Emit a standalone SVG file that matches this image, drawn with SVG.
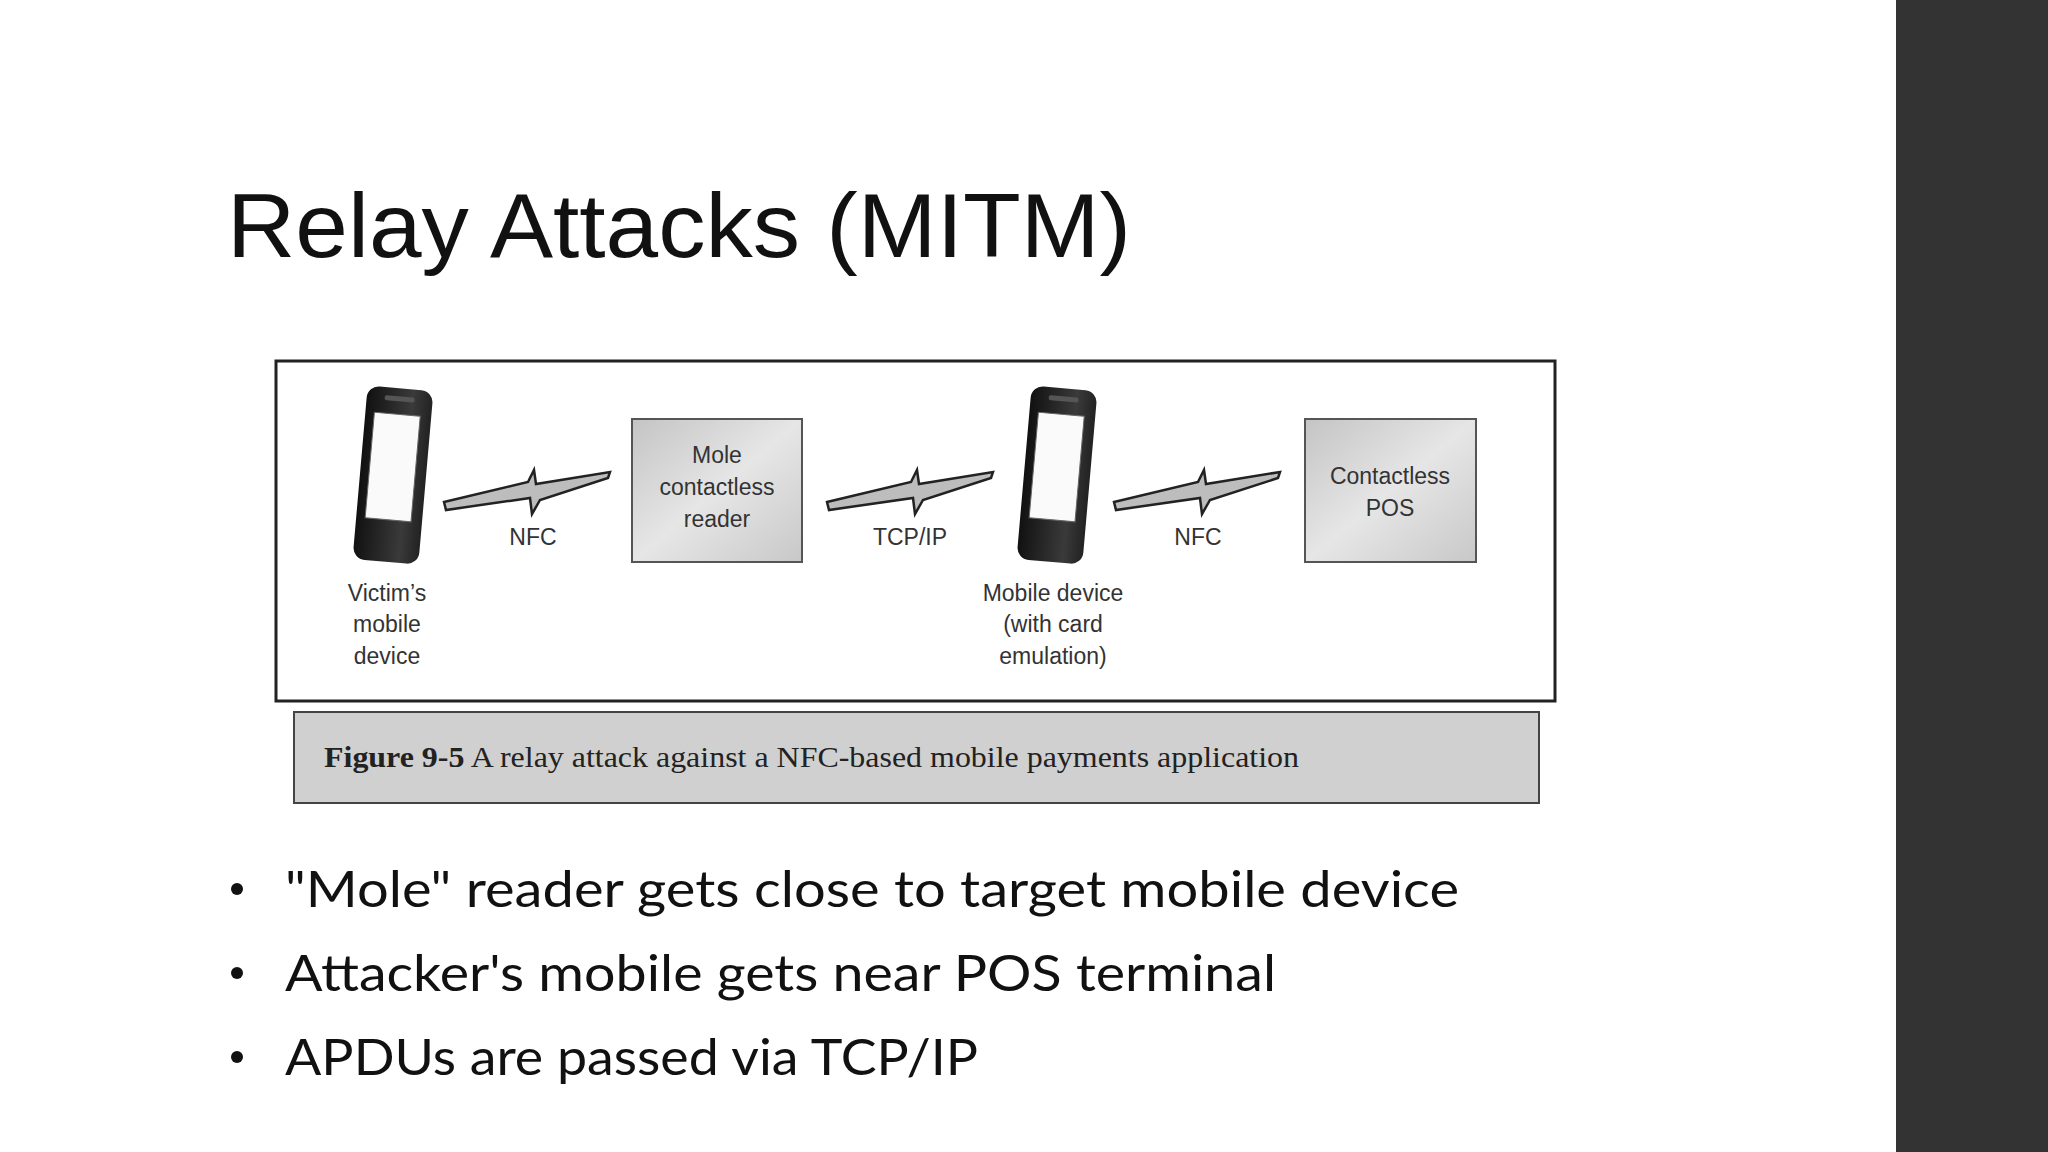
<svg xmlns="http://www.w3.org/2000/svg" width="2048" height="1152" viewBox="0 0 2048 1152">
<defs>
<linearGradient id="bg" x1="0" y1="0" x2="1" y2="1"><stop offset="0" stop-color="#c4c4c4"/><stop offset="0.5" stop-color="#e6e6e6"/><stop offset="1" stop-color="#c8c8c8"/></linearGradient>
<linearGradient id="ph" x1="0" y1="0" x2="1" y2="0"><stop offset="0" stop-color="#111"/><stop offset="0.7" stop-color="#3a3a3a"/><stop offset="1" stop-color="#222"/></linearGradient>
<g id="bolt"><path d="M0,32 L84,12 L90,0 L92,14 L166,2 L164,8 L96,30 L88,44 L86,28 L2,40 Z" fill="#bdbdbd" stroke="#222" stroke-width="2.5" stroke-linejoin="miter"/></g>
<g id="phone"><g transform="rotate(5 36 87)"><rect x="4" y="0" width="66" height="174" rx="12" fill="url(#ph)"/><rect x="13" y="26" width="46" height="106" fill="#fafafa" stroke="#666"/><rect x="22" y="8" width="30" height="5" rx="2" fill="#555"/></g></g>
</defs>
<style>
.d{font-family:"Liberation Sans",Arial,sans-serif;font-size:23px;fill:#333;text-anchor:middle}
.b{font-family:Lato,"Open Sans",sans-serif;font-size:50px;fill:#111}
.box{fill:url(#bg);stroke:#555;stroke-width:2}
</style>
<rect width="2048" height="1152" fill="#fff"/>
<rect x="1896" y="0" width="152" height="1152" fill="#333"/>
<text x="227" y="257" font-family="Liberation Sans,Arial,sans-serif" font-size="90" fill="#111" textLength="904" lengthAdjust="spacingAndGlyphs">Relay Attacks (MITM)</text>
<rect x="276" y="361" width="1279" height="340" fill="#fff" stroke="#222" stroke-width="3"/>
<rect x="294" y="712" width="1245" height="91" fill="#d0d0d0" stroke="#444" stroke-width="2"/>
<text x="324" y="767" font-family="Liberation Serif,serif" font-size="29" fill="#222" textLength="975" lengthAdjust="spacingAndGlyphs"><tspan font-weight="bold">Figure 9-5</tspan> A relay attack against a NFC-based mobile payments application</text>
<g id="connectors">
<use href="#bolt" x="444" y="470"/>
<use href="#bolt" x="827" y="470"/>
<use href="#bolt" x="1114" y="470"/>
<text class="d" x="533" y="545">NFC</text>
<text class="d" x="910" y="545">TCP/IP</text>
<text class="d" x="1198" y="545">NFC</text>
</g>
<g id="victim"><use href="#phone" x="356" y="388"/>
<text class="d" x="387" y="601">Victim’s</text><text class="d" x="387" y="632">mobile</text><text class="d" x="387" y="664">device</text></g>
<g id="mole"><rect class="box" x="632" y="419" width="170" height="143"/>
<text class="d" x="717" y="463">Mole</text><text class="d" x="717" y="495">contactless</text><text class="d" x="717" y="527">reader</text></g>
<g id="attacker"><use href="#phone" x="1020" y="388"/>
<text class="d" x="1053" y="601">Mobile device</text><text class="d" x="1053" y="632">(with card</text><text class="d" x="1053" y="664">emulation)</text></g>
<g id="pos"><rect class="box" x="1305" y="419" width="171" height="143"/>
<text class="d" x="1390" y="484">Contactless</text><text class="d" x="1390" y="516">POS</text></g>
<g id="bullets">
<circle cx="237" cy="889" r="6" fill="#111"/><text class="b" x="285" y="907" textLength="1174" lengthAdjust="spacingAndGlyphs">"Mole" reader gets close to target mobile device</text>
<circle cx="237" cy="973" r="6" fill="#111"/><text class="b" x="285" y="991" textLength="991" lengthAdjust="spacingAndGlyphs">Attacker's mobile gets near POS terminal</text>
<circle cx="237" cy="1057" r="6" fill="#111"/><text class="b" x="285" y="1075" textLength="693" lengthAdjust="spacingAndGlyphs">APDUs are passed via TCP/IP</text>
</g>
</svg>
